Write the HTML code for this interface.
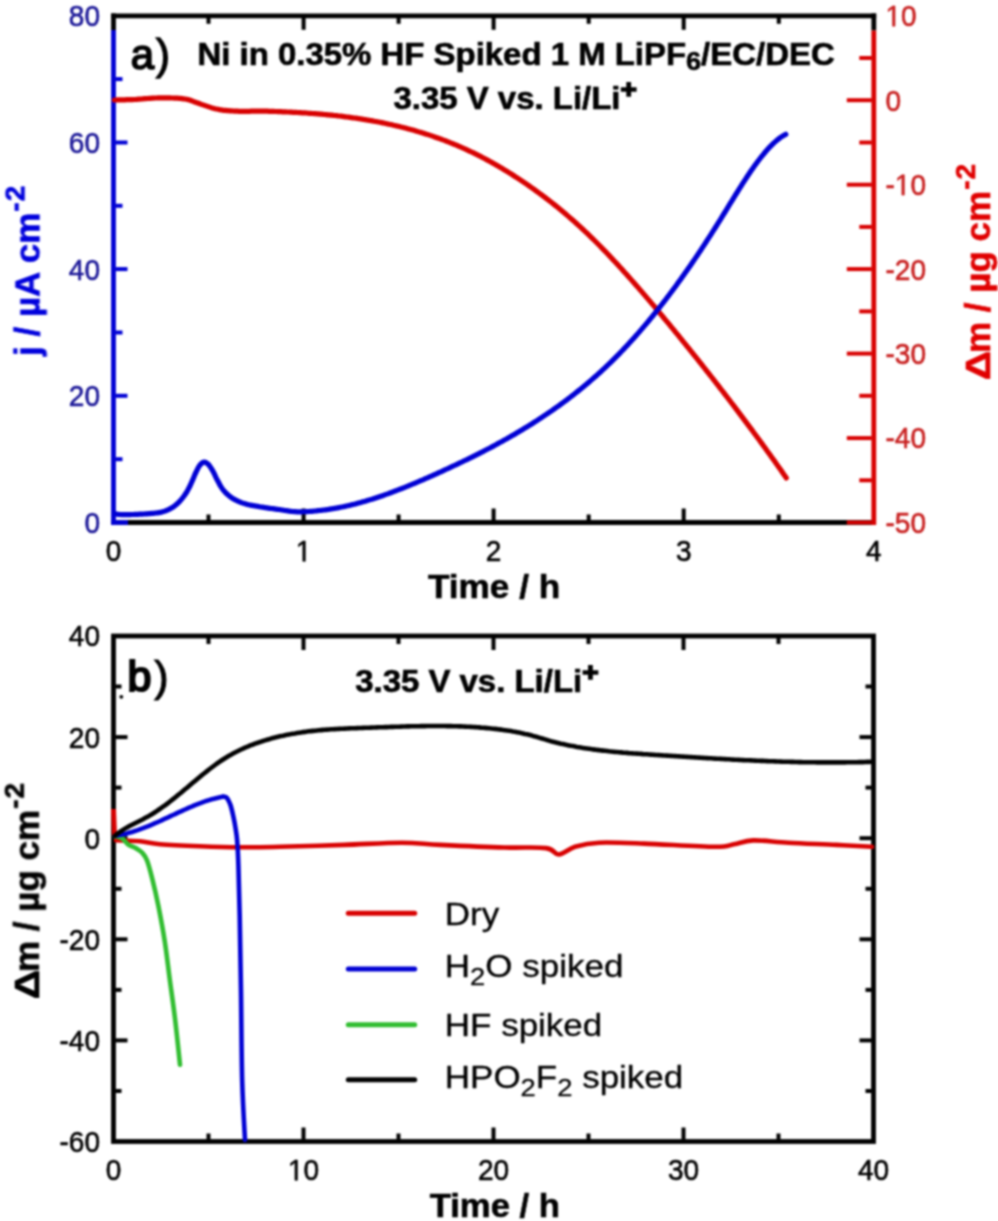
<!DOCTYPE html>
<html><head><meta charset="utf-8"><style>
html,body{margin:0;padding:0;background:#fff;}
svg{display:block;}
text{font-family:"Liberation Sans", sans-serif;}
</style></head><body>
<svg width="998" height="1221" viewBox="0 0 998 1221" font-family='"Liberation Sans", sans-serif'>
<defs><filter id="soft" color-interpolation-filters="sRGB" x="0" y="0" width="100%" height="100%" filterUnits="userSpaceOnUse"><feConvolveMatrix order="5" kernelMatrix="1 4 6 4 1 4 16 24 16 4 6 24 36 24 6 4 16 24 16 4 1 4 6 4 1" divisor="256" edgeMode="duplicate" preserveAlpha="true"/></filter></defs>
<g filter="url(#soft)">
<rect width="998" height="1221" fill="#fff"/>
<line x1="111.1" y1="15.8" x2="876.1999999999999" y2="15.8" stroke="#000" stroke-width="4.8"/>
<line x1="111.1" y1="522.5" x2="873.8" y2="522.5" stroke="#000" stroke-width="4.8"/>
<line x1="113.5" y1="13.4" x2="113.5" y2="30" stroke="#000" stroke-width="4.8"/>
<line x1="113.5" y1="30" x2="113.5" y2="524.9" stroke="#0000d4" stroke-width="4.8"/>
<line x1="873.8" y1="13.4" x2="873.8" y2="30.5" stroke="#000" stroke-width="4.8"/>
<line x1="873.8" y1="30.5" x2="873.8" y2="524.9" stroke="#d80000" stroke-width="4.8"/>
<line x1="208.5" y1="17.8" x2="208.5" y2="23.8" stroke="#000" stroke-width="4"/>
<line x1="208.5" y1="520.5" x2="208.5" y2="514.5" stroke="#000" stroke-width="4"/>
<line x1="303.6" y1="17.8" x2="303.6" y2="29.8" stroke="#000" stroke-width="4"/>
<line x1="303.6" y1="520.5" x2="303.6" y2="508.5" stroke="#000" stroke-width="4"/>
<line x1="398.6" y1="17.8" x2="398.6" y2="23.8" stroke="#000" stroke-width="4"/>
<line x1="398.6" y1="520.5" x2="398.6" y2="514.5" stroke="#000" stroke-width="4"/>
<line x1="493.6" y1="17.8" x2="493.6" y2="29.8" stroke="#000" stroke-width="4"/>
<line x1="493.6" y1="520.5" x2="493.6" y2="508.5" stroke="#000" stroke-width="4"/>
<line x1="588.7" y1="17.8" x2="588.7" y2="23.8" stroke="#000" stroke-width="4"/>
<line x1="588.7" y1="520.5" x2="588.7" y2="514.5" stroke="#000" stroke-width="4"/>
<line x1="683.7" y1="17.8" x2="683.7" y2="29.8" stroke="#000" stroke-width="4"/>
<line x1="683.7" y1="520.5" x2="683.7" y2="508.5" stroke="#000" stroke-width="4"/>
<line x1="778.8" y1="17.8" x2="778.8" y2="23.8" stroke="#000" stroke-width="4"/>
<line x1="778.8" y1="520.5" x2="778.8" y2="514.5" stroke="#000" stroke-width="4"/>
<line x1="115.5" y1="459.2" x2="122.5" y2="459.2" stroke="#0000d4" stroke-width="4"/>
<line x1="115.5" y1="395.8" x2="127.5" y2="395.8" stroke="#0000d4" stroke-width="4"/>
<line x1="115.5" y1="332.5" x2="122.5" y2="332.5" stroke="#0000d4" stroke-width="4"/>
<line x1="115.5" y1="269.1" x2="127.5" y2="269.1" stroke="#0000d4" stroke-width="4"/>
<line x1="115.5" y1="205.8" x2="122.5" y2="205.8" stroke="#0000d4" stroke-width="4"/>
<line x1="115.5" y1="142.5" x2="127.5" y2="142.5" stroke="#0000d4" stroke-width="4"/>
<line x1="115.5" y1="79.1" x2="122.5" y2="79.1" stroke="#0000d4" stroke-width="4"/>
<line x1="846.8" y1="522.5" x2="871.8" y2="522.5" stroke="#d80000" stroke-width="4"/>
<line x1="859.3" y1="480.3" x2="871.8" y2="480.3" stroke="#d80000" stroke-width="4"/>
<line x1="846.8" y1="438.1" x2="871.8" y2="438.1" stroke="#d80000" stroke-width="4"/>
<line x1="859.3" y1="395.8" x2="871.8" y2="395.8" stroke="#d80000" stroke-width="4"/>
<line x1="846.8" y1="353.6" x2="871.8" y2="353.6" stroke="#d80000" stroke-width="4"/>
<line x1="859.3" y1="311.4" x2="871.8" y2="311.4" stroke="#d80000" stroke-width="4"/>
<line x1="846.8" y1="269.1" x2="871.8" y2="269.1" stroke="#d80000" stroke-width="4"/>
<line x1="859.3" y1="226.9" x2="871.8" y2="226.9" stroke="#d80000" stroke-width="4"/>
<line x1="846.8" y1="184.7" x2="871.8" y2="184.7" stroke="#d80000" stroke-width="4"/>
<line x1="859.3" y1="142.5" x2="871.8" y2="142.5" stroke="#d80000" stroke-width="4"/>
<line x1="846.8" y1="100.2" x2="871.8" y2="100.2" stroke="#d80000" stroke-width="4"/>
<line x1="859.3" y1="58.0" x2="871.8" y2="58.0" stroke="#d80000" stroke-width="4"/>
<g transform="translate(105.71,561.30) scale(0.95,1)"><text x="0.00" y="0" font-size="29.5" fill="#000" stroke="#000" stroke-width="0.6">0</text></g>
<g transform="translate(295.78,561.30) scale(0.95,1)"><path transform="translate(0.00,0) scale(0.01440,-0.01440)" d="M515 0V1237L197 1010V1180L530 1409H696V0Z" fill="#000" stroke="#000" stroke-width="41.7"/></g>
<g transform="translate(485.86,561.30) scale(0.95,1)"><text x="0.00" y="0" font-size="29.5" fill="#000" stroke="#000" stroke-width="0.6">2</text></g>
<g transform="translate(675.93,561.30) scale(0.95,1)"><text x="0.00" y="0" font-size="29.5" fill="#000" stroke="#000" stroke-width="0.6">3</text></g>
<g transform="translate(866.01,561.30) scale(0.95,1)"><text x="0.00" y="0" font-size="29.5" fill="#000" stroke="#000" stroke-width="0.6">4</text></g>
<g transform="translate(84.41,532.90) scale(0.95,1)"><text x="0.00" y="0" font-size="29.5" fill="#1c1898" stroke="#1c1898" stroke-width="0.6">0</text></g>
<g transform="translate(68.83,406.22) scale(0.95,1)"><text x="0.00" y="0" font-size="29.5" fill="#1c1898" stroke="#1c1898" stroke-width="0.6">20</text></g>
<g transform="translate(68.83,279.55) scale(0.95,1)"><text x="0.00" y="0" font-size="29.5" fill="#1c1898" stroke="#1c1898" stroke-width="0.6">40</text></g>
<g transform="translate(68.83,152.88) scale(0.95,1)"><text x="0.00" y="0" font-size="29.5" fill="#1c1898" stroke="#1c1898" stroke-width="0.6">60</text></g>
<g transform="translate(68.83,26.20) scale(0.95,1)"><text x="0.00" y="0" font-size="29.5" fill="#1c1898" stroke="#1c1898" stroke-width="0.6">80</text></g>
<g transform="translate(885.50,532.90) scale(0.95,1)"><text x="0.00" y="0" font-size="29.5" fill="#c82020" stroke="#c82020" stroke-width="0.6">-50</text></g>
<g transform="translate(885.50,448.45) scale(0.95,1)"><text x="0.00" y="0" font-size="29.5" fill="#c82020" stroke="#c82020" stroke-width="0.6">-40</text></g>
<g transform="translate(885.50,364.00) scale(0.95,1)"><text x="0.00" y="0" font-size="29.5" fill="#c82020" stroke="#c82020" stroke-width="0.6">-30</text></g>
<g transform="translate(885.50,279.55) scale(0.95,1)"><text x="0.00" y="0" font-size="29.5" fill="#c82020" stroke="#c82020" stroke-width="0.6">-20</text></g>
<g transform="translate(885.50,195.10) scale(0.95,1)"><text x="0.00" y="0" font-size="29.5" fill="#c82020" stroke="#c82020" stroke-width="0.6">-</text><path transform="translate(9.82,0) scale(0.01440,-0.01440)" d="M515 0V1237L197 1010V1180L530 1409H696V0Z" fill="#c82020" stroke="#c82020" stroke-width="41.7"/><text x="26.23" y="0" font-size="29.5" fill="#c82020" stroke="#c82020" stroke-width="0.6">0</text></g>
<g transform="translate(885.50,110.65) scale(0.95,1)"><text x="0.00" y="0" font-size="29.5" fill="#c82020" stroke="#c82020" stroke-width="0.6">0</text></g>
<g transform="translate(885.50,26.20) scale(0.95,1)"><path transform="translate(0.00,0) scale(0.01440,-0.01440)" d="M515 0V1237L197 1010V1180L530 1409H696V0Z" fill="#c82020" stroke="#c82020" stroke-width="41.7"/><text x="16.41" y="0" font-size="29.5" fill="#c82020" stroke="#c82020" stroke-width="0.6">0</text></g>
<path d="M114.5,100.0 L116.0,100.0 L117.5,99.9 L119.0,99.9 L120.5,99.9 L122.0,99.8 L123.5,99.8 L125.0,99.8 L126.5,99.7 L128.0,99.7 L129.5,99.7 L131.0,99.6 L132.5,99.6 L134.0,99.5 L135.5,99.5 L137.0,99.3 L138.5,99.2 L140.0,99.1 L141.5,99.0 L143.0,98.8 L144.5,98.7 L146.0,98.6 L147.5,98.5 L149.0,98.4 L150.5,98.3 L152.0,98.2 L153.5,98.1 L155.0,98.0 L156.5,98.0 L158.0,97.9 L159.5,97.8 L161.0,97.8 L162.5,97.8 L164.0,97.8 L165.5,97.8 L167.0,97.8 L168.5,97.9 L170.0,97.9 L171.5,98.0 L173.0,98.0 L174.5,98.1 L176.0,98.1 L177.5,98.2 L179.0,98.3 L180.5,98.4 L182.0,98.6 L183.5,98.8 L185.0,99.0 L186.5,99.3 L188.0,99.6 L189.5,100.0 L191.0,100.5 L192.5,101.1 L194.0,101.7 L195.5,102.2 L197.0,102.8 L198.5,103.3 L200.0,103.8 L201.5,104.4 L203.0,104.9 L204.5,105.4 L206.0,105.9 L207.5,106.4 L209.0,106.9 L210.5,107.4 L212.0,107.9 L213.5,108.3 L215.0,108.7 L216.5,109.0 L218.0,109.3 L219.5,109.6 L221.0,109.8 L222.5,110.1 L224.0,110.3 L225.5,110.4 L227.0,110.6 L228.5,110.7 L230.0,110.8 L231.5,110.9 L233.0,111.0 L234.5,111.1 L236.0,111.2 L237.5,111.2 L239.0,111.3 L240.5,111.3 L242.0,111.4 L243.5,111.4 L245.0,111.3 L246.5,111.3 L248.0,111.3 L249.5,111.3 L251.0,111.2 L252.5,111.2 L254.0,111.2 L255.5,111.2 L257.0,111.2 L258.5,111.2 L260.0,111.2 L261.5,111.2 L263.0,111.2 L264.5,111.2 L266.0,111.2 L267.5,111.2 L269.0,111.3 L270.5,111.3 L272.0,111.4 L273.5,111.4 L275.0,111.5 L276.5,111.5 L278.0,111.6 L279.5,111.7 L281.0,111.7 L282.5,111.8 L284.0,111.8 L285.5,111.9 L287.0,112.0 L288.5,112.0 L290.0,112.1 L291.5,112.2 L293.0,112.3 L294.5,112.3 L296.0,112.4 L297.5,112.5 L299.0,112.6 L300.5,112.7 L302.0,112.8 L303.5,112.9 L305.0,112.9 L306.5,113.0 L308.0,113.2 L309.5,113.3 L311.0,113.4 L312.5,113.5 L314.0,113.6 L315.5,113.7 L317.0,113.8 L318.5,113.9 L320.0,114.1 L321.5,114.2 L323.0,114.3 L324.5,114.5 L326.0,114.6 L327.5,114.8 L329.0,114.9 L330.5,115.1 L332.0,115.2 L333.5,115.4 L335.0,115.5 L336.5,115.7 L338.0,115.9 L339.5,116.0 L341.0,116.2 L342.5,116.4 L344.0,116.6 L345.5,116.8 L347.0,117.0 L348.5,117.2 L350.0,117.4 L351.5,117.6 L353.0,117.8 L354.5,118.0 L356.0,118.2 L357.5,118.4 L359.0,118.7 L360.5,118.9 L362.0,119.1 L363.5,119.4 L365.0,119.6 L366.5,119.9 L368.0,120.1 L369.5,120.4 L371.0,120.6 L372.5,120.9 L374.0,121.2 L375.5,121.5 L377.0,121.7 L378.5,122.0 L380.0,122.3 L381.5,122.6 L383.0,122.9 L384.5,123.2 L386.0,123.5 L387.5,123.9 L389.0,124.2 L390.5,124.5 L392.0,124.8 L393.5,125.2 L395.0,125.5 L396.5,125.9 L398.0,126.2 L399.5,126.6 L401.0,127.0 L402.5,127.3 L404.0,127.7 L405.5,128.1 L407.0,128.5 L408.5,128.9 L410.0,129.3 L411.5,129.7 L413.0,130.1 L414.5,130.5 L416.0,131.0 L417.5,131.4 L419.0,131.9 L420.5,132.3 L422.0,132.8 L423.5,133.2 L425.0,133.7 L426.5,134.2 L428.0,134.6 L429.5,135.1 L431.0,135.6 L432.5,136.1 L434.0,136.7 L435.5,137.2 L437.0,137.7 L438.5,138.2 L440.0,138.8 L441.5,139.3 L443.0,139.9 L444.5,140.4 L446.0,141.0 L447.5,141.6 L449.0,142.2 L450.5,142.8 L452.0,143.4 L453.5,144.0 L455.0,144.6 L456.5,145.2 L458.0,145.9 L459.5,146.5 L461.0,147.2 L462.5,147.8 L464.0,148.5 L465.5,149.2 L467.0,149.9 L468.5,150.6 L470.0,151.3 L471.5,152.0 L473.0,152.7 L474.5,153.4 L476.0,154.2 L477.5,154.9 L479.0,155.7 L480.5,156.4 L482.0,157.2 L483.5,158.0 L485.0,158.8 L486.5,159.6 L488.0,160.4 L489.5,161.2 L491.0,162.0 L492.5,162.9 L494.0,163.7 L495.5,164.6 L497.0,165.4 L498.5,166.3 L500.0,167.2 L501.5,168.1 L503.0,169.0 L504.5,169.9 L506.0,170.8 L507.5,171.7 L509.0,172.7 L510.5,173.6 L512.0,174.5 L513.5,175.5 L515.0,176.5 L516.5,177.4 L518.0,178.4 L519.5,179.4 L521.0,180.4 L522.5,181.4 L524.0,182.4 L525.5,183.4 L527.0,184.4 L528.5,185.5 L530.0,186.5 L531.5,187.6 L533.0,188.6 L534.5,189.7 L536.0,190.8 L537.5,191.9 L539.0,193.0 L540.5,194.1 L542.0,195.2 L543.5,196.3 L545.0,197.4 L546.5,198.6 L548.0,199.7 L549.5,200.9 L551.0,202.0 L552.5,203.2 L554.0,204.4 L555.5,205.6 L557.0,206.8 L558.5,208.0 L560.0,209.3 L561.5,210.5 L563.0,211.8 L564.5,213.0 L566.0,214.3 L567.5,215.6 L569.0,216.9 L570.5,218.2 L572.0,219.5 L573.5,220.8 L575.0,222.1 L576.5,223.5 L578.0,224.9 L579.5,226.2 L581.0,227.6 L582.5,229.0 L584.0,230.4 L585.5,231.8 L587.0,233.2 L588.5,234.7 L590.0,236.1 L591.5,237.6 L593.0,239.0 L594.5,240.5 L596.0,242.0 L597.5,243.5 L599.0,245.0 L600.5,246.5 L602.0,248.1 L603.5,249.6 L605.0,251.2 L606.5,252.7 L608.0,254.3 L609.5,255.9 L611.0,257.5 L612.5,259.1 L614.0,260.7 L615.5,262.3 L617.0,263.9 L618.5,265.5 L620.0,267.2 L621.5,268.8 L623.0,270.5 L624.5,272.2 L626.0,273.8 L627.5,275.5 L629.0,277.2 L630.5,278.9 L632.0,280.6 L633.5,282.3 L635.0,284.0 L636.5,285.7 L638.0,287.4 L639.5,289.2 L641.0,290.9 L642.5,292.6 L644.0,294.4 L645.5,296.1 L647.0,297.9 L648.5,299.6 L650.0,301.4 L651.5,303.2 L653.0,304.9 L654.5,306.7 L656.0,308.5 L657.5,310.3 L659.0,312.1 L660.5,313.9 L662.0,315.7 L663.5,317.5 L665.0,319.3 L666.5,321.1 L668.0,322.9 L669.5,324.7 L671.0,326.6 L672.5,328.4 L674.0,330.2 L675.5,332.1 L677.0,333.9 L678.5,335.7 L680.0,337.6 L681.5,339.4 L683.0,341.3 L684.5,343.1 L686.0,345.0 L687.5,346.8 L689.0,348.7 L690.5,350.6 L692.0,352.4 L693.5,354.3 L695.0,356.2 L696.5,358.0 L698.0,359.9 L699.5,361.8 L701.0,363.7 L702.5,365.6 L704.0,367.5 L705.5,369.4 L707.0,371.3 L708.5,373.2 L710.0,375.1 L711.5,377.0 L713.0,378.9 L714.5,380.8 L716.0,382.8 L717.5,384.7 L719.0,386.6 L720.5,388.6 L722.0,390.5 L723.5,392.4 L725.0,394.4 L726.5,396.3 L728.0,398.3 L729.5,400.2 L731.0,402.2 L732.5,404.2 L734.0,406.1 L735.5,408.1 L737.0,410.1 L738.5,412.1 L740.0,414.1 L741.5,416.1 L743.0,418.1 L744.5,420.1 L746.0,422.1 L747.5,424.1 L749.0,426.1 L750.5,428.1 L752.0,430.1 L753.5,432.2 L755.0,434.2 L756.5,436.2 L758.0,438.3 L759.5,440.3 L761.0,442.4 L762.5,444.4 L764.0,446.5 L765.5,448.6 L767.0,450.7 L768.5,452.7 L770.0,454.8 L771.5,456.9 L773.0,459.0 L774.5,461.1 L776.0,463.2 L777.5,465.4 L779.0,467.5 L780.5,469.6 L782.0,471.8 L783.5,473.9 L785.0,476.1 L786.3,477.9" fill="none" stroke="#d80000" stroke-width="5.2" stroke-linejoin="round" stroke-linecap="round"/>
<line x1="113.7" y1="522.5" x2="128" y2="522.5" stroke="#0000d4" stroke-width="4.8"/>
<path d="M115.4,513.8 L116.9,514.1 L118.4,514.3 L119.9,514.5 L121.4,514.6 L122.9,514.7 L124.4,514.7 L125.9,514.7 L127.4,514.6 L128.9,514.6 L130.4,514.6 L131.9,514.5 L133.4,514.5 L134.9,514.4 L136.4,514.4 L137.9,514.3 L139.4,514.2 L140.9,514.1 L142.4,514.1 L143.9,514.0 L145.4,513.9 L146.9,513.8 L148.4,513.7 L149.9,513.6 L151.4,513.4 L152.9,513.3 L154.4,513.2 L155.9,513.0 L157.4,512.8 L158.9,512.6 L160.4,512.4 L161.9,512.0 L163.4,511.6 L164.9,511.1 L166.4,510.5 L167.9,509.9 L169.4,509.2 L170.9,508.3 L172.4,507.4 L173.9,506.5 L175.4,505.3 L176.9,504.0 L178.4,502.6 L179.9,501.1 L181.4,499.4 L182.9,497.5 L184.4,495.5 L185.9,493.3 L187.4,490.8 L188.9,488.1 L190.4,485.0 L191.9,481.7 L193.4,478.2 L194.9,474.5 L196.4,471.4 L197.9,468.3 L199.4,465.7 L200.9,464.0 L202.4,462.7 L203.9,462.0 L205.4,462.3 L206.9,463.2 L208.4,464.4 L209.9,466.3 L211.4,468.6 L212.9,471.1 L214.4,474.0 L215.9,477.3 L217.4,480.3 L218.9,483.1 L220.4,485.9 L221.9,488.2 L223.4,490.2 L224.9,491.9 L226.4,493.5 L227.9,494.8 L229.4,496.1 L230.9,497.2 L232.4,498.3 L233.9,499.1 L235.4,499.9 L236.9,500.6 L238.4,501.3 L239.9,502.0 L241.4,502.6 L242.9,503.1 L244.4,503.6 L245.9,504.0 L247.4,504.4 L248.9,504.8 L250.4,505.1 L251.9,505.4 L253.4,505.7 L254.9,505.9 L256.4,506.2 L257.9,506.4 L259.4,506.7 L260.9,507.0 L262.4,507.2 L263.9,507.4 L265.4,507.7 L266.9,507.9 L268.4,508.1 L269.9,508.3 L271.4,508.5 L272.9,508.7 L274.4,508.9 L275.9,509.1 L277.4,509.3 L278.9,509.5 L280.4,509.7 L281.9,510.0 L283.4,510.2 L284.9,510.5 L286.4,510.7 L287.9,510.9 L289.4,511.2 L290.9,511.3 L292.4,511.5 L293.9,511.6 L295.4,511.7 L296.9,511.8 L298.4,511.8 L299.9,511.8 L301.4,511.8 L302.9,511.8 L304.4,511.7 L305.9,511.7 L307.4,511.6 L308.9,511.5 L310.4,511.4 L311.9,511.3 L313.4,511.2 L314.9,511.0 L316.4,510.9 L317.9,510.7 L319.4,510.5 L320.9,510.3 L322.4,510.2 L323.9,510.0 L325.4,509.8 L326.9,509.6 L328.4,509.4 L329.9,509.1 L331.4,508.9 L332.9,508.7 L334.4,508.4 L335.9,508.2 L337.4,507.9 L338.9,507.6 L340.4,507.3 L341.9,507.0 L343.4,506.7 L344.9,506.4 L346.4,506.0 L347.9,505.7 L349.4,505.4 L350.9,505.0 L352.4,504.6 L353.9,504.3 L355.4,503.9 L356.9,503.5 L358.4,503.1 L359.9,502.7 L361.4,502.3 L362.9,501.8 L364.4,501.4 L365.9,501.0 L367.4,500.5 L368.9,500.1 L370.4,499.6 L371.9,499.2 L373.4,498.7 L374.9,498.2 L376.4,497.7 L377.9,497.2 L379.4,496.7 L380.9,496.2 L382.4,495.7 L383.9,495.2 L385.4,494.6 L386.9,494.1 L388.4,493.6 L389.9,493.0 L391.4,492.5 L392.9,491.9 L394.4,491.3 L395.9,490.8 L397.4,490.2 L398.9,489.6 L400.4,489.0 L401.9,488.5 L403.4,487.9 L404.9,487.3 L406.4,486.7 L407.9,486.1 L409.4,485.4 L410.9,484.8 L412.4,484.2 L413.9,483.6 L415.4,483.0 L416.9,482.3 L418.4,481.7 L419.9,481.0 L421.4,480.4 L422.9,479.8 L424.4,479.1 L425.9,478.4 L427.4,477.8 L428.9,477.1 L430.4,476.5 L431.9,475.8 L433.4,475.1 L434.9,474.5 L436.4,473.8 L437.9,473.1 L439.4,472.4 L440.9,471.8 L442.4,471.1 L443.9,470.4 L445.4,469.7 L446.9,469.0 L448.4,468.3 L449.9,467.6 L451.4,466.9 L452.9,466.2 L454.4,465.5 L455.9,464.8 L457.4,464.1 L458.9,463.4 L460.4,462.7 L461.9,462.0 L463.4,461.2 L464.9,460.5 L466.4,459.8 L467.9,459.1 L469.4,458.3 L470.9,457.6 L472.4,456.9 L473.9,456.1 L475.4,455.4 L476.9,454.6 L478.4,453.9 L479.9,453.1 L481.4,452.3 L482.9,451.6 L484.4,450.8 L485.9,450.0 L487.4,449.2 L488.9,448.5 L490.4,447.7 L491.9,446.9 L493.4,446.1 L494.9,445.3 L496.4,444.5 L497.9,443.6 L499.4,442.8 L500.9,442.0 L502.4,441.2 L503.9,440.3 L505.4,439.5 L506.9,438.7 L508.4,437.8 L509.9,437.0 L511.4,436.1 L512.9,435.2 L514.4,434.4 L515.9,433.5 L517.4,432.6 L518.9,431.7 L520.4,430.8 L521.9,429.9 L523.4,429.0 L524.9,428.1 L526.4,427.2 L527.9,426.3 L529.4,425.3 L530.9,424.4 L532.4,423.5 L533.9,422.5 L535.4,421.6 L536.9,420.6 L538.4,419.6 L539.9,418.6 L541.4,417.7 L542.9,416.7 L544.4,415.7 L545.9,414.7 L547.4,413.7 L548.9,412.6 L550.4,411.6 L551.9,410.6 L553.4,409.5 L554.9,408.5 L556.4,407.4 L557.9,406.4 L559.4,405.3 L560.9,404.2 L562.4,403.1 L563.9,402.0 L565.4,400.9 L566.9,399.8 L568.4,398.6 L569.9,397.5 L571.4,396.3 L572.9,395.2 L574.4,394.0 L575.9,392.8 L577.4,391.6 L578.9,390.4 L580.4,389.2 L581.9,388.0 L583.4,386.8 L584.9,385.5 L586.4,384.3 L587.9,383.0 L589.4,381.7 L590.9,380.4 L592.4,379.1 L593.9,377.8 L595.4,376.5 L596.9,375.2 L598.4,373.8 L599.9,372.5 L601.4,371.1 L602.9,369.7 L604.4,368.3 L605.9,366.9 L607.4,365.5 L608.9,364.0 L610.4,362.6 L611.9,361.1 L613.4,359.6 L614.9,358.1 L616.4,356.6 L617.9,355.1 L619.4,353.6 L620.9,352.0 L622.4,350.5 L623.9,348.9 L625.4,347.3 L626.9,345.7 L628.4,344.1 L629.9,342.4 L631.4,340.8 L632.9,339.1 L634.4,337.5 L635.9,335.8 L637.4,334.1 L638.9,332.4 L640.4,330.6 L641.9,328.9 L643.4,327.1 L644.9,325.4 L646.4,323.6 L647.9,321.8 L649.4,320.0 L650.9,318.2 L652.4,316.3 L653.9,314.5 L655.4,312.6 L656.9,310.7 L658.4,308.9 L659.9,306.9 L661.4,305.0 L662.9,303.1 L664.4,301.2 L665.9,299.2 L667.4,297.2 L668.9,295.3 L670.4,293.3 L671.9,291.3 L673.4,289.2 L674.9,287.2 L676.4,285.2 L677.9,283.1 L679.4,281.0 L680.9,278.9 L682.4,276.8 L683.9,274.7 L685.4,272.6 L686.9,270.5 L688.4,268.3 L689.9,266.2 L691.4,264.0 L692.9,261.8 L694.4,259.6 L695.9,257.4 L697.4,255.2 L698.9,252.9 L700.4,250.7 L701.9,248.4 L703.4,246.1 L704.9,243.8 L706.4,241.5 L707.9,239.2 L709.4,236.9 L710.9,234.6 L712.4,232.2 L713.9,229.9 L715.4,227.5 L716.9,225.1 L718.4,222.7 L719.9,220.3 L721.4,217.9 L722.9,215.4 L724.4,213.0 L725.9,210.6 L727.4,208.1 L728.9,205.7 L730.4,203.2 L731.9,200.8 L733.4,198.3 L734.9,195.9 L736.4,193.5 L737.9,191.1 L739.4,188.7 L740.9,186.3 L742.4,183.9 L743.9,181.6 L745.4,179.3 L746.9,177.0 L748.4,174.8 L749.9,172.5 L751.4,170.3 L752.9,168.2 L754.4,166.1 L755.9,164.0 L757.4,161.9 L758.9,160.0 L760.4,158.0 L761.9,156.1 L763.4,154.3 L764.9,152.5 L766.4,150.7 L767.9,149.0 L769.4,147.4 L770.9,145.9 L772.4,144.4 L773.9,142.9 L775.4,141.6 L776.9,140.3 L778.4,139.1 L779.9,137.9 L781.4,136.9 L782.9,135.9 L784.4,135.0 L785.8,134.3" fill="none" stroke="#0000d4" stroke-width="5.2" stroke-linejoin="round" stroke-linecap="round"/>
<g transform="translate(39.5,356) rotate(-90)" fill="#0000dc" stroke="#0000dc" stroke-width="0.6" font-weight="bold" font-size="35"><text x="0" y="0">j / µA cm<tspan font-size="28" dy="-15.5" dx="1">-</tspan><tspan font-size="28" dx="1">2</tspan></text></g>
<g transform="translate(990,378.5) rotate(-90)" fill="#e00000" stroke="#e00000" stroke-width="0.6" font-weight="bold" font-size="35"><text transform="scale(1.17,1)" x="-1.5" y="0">Δ</text><text x="25.5" y="0">m / µg cm<tspan font-size="28" dy="-15.5" dx="1">-</tspan><tspan font-size="28" dx="1">2</tspan></text></g>
<text x="130.8" y="69" font-size="42" fill="#000" stroke="#000" stroke-width="1.7">a</text>
<text x="156" y="69" font-size="42" fill="#000" stroke="#000" stroke-width="1.3">)</text>
<g transform="translate(197.5,65) scale(1.08,1)"><text x="0" y="0" font-size="30.5" font-weight="bold" fill="#000" stroke="#000" stroke-width="0.6">Ni in 0.35% HF Spiked 1 M LiPF<tspan font-size="25" dy="5">6</tspan><tspan dy="-5">/EC/DEC</tspan></text></g>
<g transform="translate(393.5,108.7) scale(1.08,1)"><text x="0" y="0" font-size="30.5" font-weight="bold" fill="#000" stroke="#000" stroke-width="0.6">3.35 V vs. Li/Li<tspan font-size="26" dy="-11" stroke-width="1.6">+</tspan></text></g>
<g transform="translate(428,598) scale(1.04,1)"><text x="0" y="0" font-size="33.8" font-weight="bold" fill="#000" stroke="#000" stroke-width="0.6">Time / h</text></g>
<rect x="113.5" y="636" width="760.0" height="505.5" fill="none" stroke="#000" stroke-width="4.8" stroke-linejoin="miter"/>
<line x1="208.5" y1="638" x2="208.5" y2="644" stroke="#000" stroke-width="4"/>
<line x1="208.5" y1="1139.5" x2="208.5" y2="1133.5" stroke="#000" stroke-width="4"/>
<line x1="303.5" y1="638" x2="303.5" y2="650" stroke="#000" stroke-width="4"/>
<line x1="303.5" y1="1139.5" x2="303.5" y2="1127.5" stroke="#000" stroke-width="4"/>
<line x1="398.5" y1="638" x2="398.5" y2="644" stroke="#000" stroke-width="4"/>
<line x1="398.5" y1="1139.5" x2="398.5" y2="1133.5" stroke="#000" stroke-width="4"/>
<line x1="493.5" y1="638" x2="493.5" y2="650" stroke="#000" stroke-width="4"/>
<line x1="493.5" y1="1139.5" x2="493.5" y2="1127.5" stroke="#000" stroke-width="4"/>
<line x1="588.5" y1="638" x2="588.5" y2="644" stroke="#000" stroke-width="4"/>
<line x1="588.5" y1="1139.5" x2="588.5" y2="1133.5" stroke="#000" stroke-width="4"/>
<line x1="683.5" y1="638" x2="683.5" y2="650" stroke="#000" stroke-width="4"/>
<line x1="683.5" y1="1139.5" x2="683.5" y2="1127.5" stroke="#000" stroke-width="4"/>
<line x1="778.5" y1="638" x2="778.5" y2="644" stroke="#000" stroke-width="4"/>
<line x1="778.5" y1="1139.5" x2="778.5" y2="1133.5" stroke="#000" stroke-width="4"/>
<line x1="115.5" y1="1091.0" x2="121.5" y2="1091.0" stroke="#000" stroke-width="4"/>
<line x1="865.5" y1="1091.0" x2="871.5" y2="1091.0" stroke="#000" stroke-width="4"/>
<line x1="115.5" y1="1040.4" x2="127.5" y2="1040.4" stroke="#000" stroke-width="4"/>
<line x1="859.5" y1="1040.4" x2="871.5" y2="1040.4" stroke="#000" stroke-width="4"/>
<line x1="115.5" y1="989.9" x2="121.5" y2="989.9" stroke="#000" stroke-width="4"/>
<line x1="865.5" y1="989.9" x2="871.5" y2="989.9" stroke="#000" stroke-width="4"/>
<line x1="115.5" y1="939.3" x2="127.5" y2="939.3" stroke="#000" stroke-width="4"/>
<line x1="859.5" y1="939.3" x2="871.5" y2="939.3" stroke="#000" stroke-width="4"/>
<line x1="115.5" y1="888.8" x2="121.5" y2="888.8" stroke="#000" stroke-width="4"/>
<line x1="865.5" y1="888.8" x2="871.5" y2="888.8" stroke="#000" stroke-width="4"/>
<line x1="115.5" y1="838.2" x2="127.5" y2="838.2" stroke="#000" stroke-width="4"/>
<line x1="859.5" y1="838.2" x2="871.5" y2="838.2" stroke="#000" stroke-width="4"/>
<line x1="115.5" y1="787.6" x2="121.5" y2="787.6" stroke="#000" stroke-width="4"/>
<line x1="865.5" y1="787.6" x2="871.5" y2="787.6" stroke="#000" stroke-width="4"/>
<line x1="115.5" y1="737.1" x2="127.5" y2="737.1" stroke="#000" stroke-width="4"/>
<line x1="859.5" y1="737.1" x2="871.5" y2="737.1" stroke="#000" stroke-width="4"/>
<line x1="115.5" y1="686.5" x2="121.5" y2="686.5" stroke="#000" stroke-width="4"/>
<line x1="865.5" y1="686.5" x2="871.5" y2="686.5" stroke="#000" stroke-width="4"/>
<g transform="translate(105.71,1180.30) scale(0.95,1)"><text x="0.00" y="0" font-size="29.5" fill="#000" stroke="#000" stroke-width="0.6">0</text></g>
<g transform="translate(287.91,1180.30) scale(0.95,1)"><path transform="translate(0.00,0) scale(0.01440,-0.01440)" d="M515 0V1237L197 1010V1180L530 1409H696V0Z" fill="#000" stroke="#000" stroke-width="41.7"/><text x="16.41" y="0" font-size="29.5" fill="#000" stroke="#000" stroke-width="0.6">0</text></g>
<g transform="translate(477.91,1180.30) scale(0.95,1)"><text x="0.00" y="0" font-size="29.5" fill="#000" stroke="#000" stroke-width="0.6">20</text></g>
<g transform="translate(667.91,1180.30) scale(0.95,1)"><text x="0.00" y="0" font-size="29.5" fill="#000" stroke="#000" stroke-width="0.6">30</text></g>
<g transform="translate(857.91,1180.30) scale(0.95,1)"><text x="0.00" y="0" font-size="29.5" fill="#000" stroke="#000" stroke-width="0.6">40</text></g>
<g transform="translate(59.50,1151.90) scale(0.95,1)"><text x="0.00" y="0" font-size="29.5" fill="#000" stroke="#000" stroke-width="0.6">-60</text></g>
<g transform="translate(59.50,1050.80) scale(0.95,1)"><text x="0.00" y="0" font-size="29.5" fill="#000" stroke="#000" stroke-width="0.6">-40</text></g>
<g transform="translate(59.50,949.70) scale(0.95,1)"><text x="0.00" y="0" font-size="29.5" fill="#000" stroke="#000" stroke-width="0.6">-20</text></g>
<g transform="translate(84.41,848.60) scale(0.95,1)"><text x="0.00" y="0" font-size="29.5" fill="#000" stroke="#000" stroke-width="0.6">0</text></g>
<g transform="translate(68.83,747.50) scale(0.95,1)"><text x="0.00" y="0" font-size="29.5" fill="#000" stroke="#000" stroke-width="0.6">20</text></g>
<g transform="translate(68.83,646.40) scale(0.95,1)"><text x="0.00" y="0" font-size="29.5" fill="#000" stroke="#000" stroke-width="0.6">40</text></g>
<path d="M113.5,809 L114.5,836" stroke="#d80000" stroke-width="5" fill="none"/>
<path d="M116.0,840.3 C120.0,840.5 132.7,840.6 140.0,841.3 C147.3,842.0 150.0,843.5 160.0,844.3 C170.0,845.1 186.6,845.8 200.0,846.3 C213.4,846.8 227.0,847.2 240.3,847.3 C253.6,847.4 262.7,847.2 280.0,846.8 C297.3,846.4 323.8,845.6 344.1,844.9 C364.4,844.2 385.8,842.7 401.8,842.7 C417.8,842.7 423.2,844.1 440.3,844.9 C457.4,845.7 486.8,847.0 504.4,847.5 C522.0,848.0 537.0,846.9 546.1,848.1 C555.2,849.3 554.1,854.7 558.9,854.5 C563.7,854.3 568.3,848.8 575.0,846.8 C581.7,844.8 587.7,843.2 599.2,842.7 C610.7,842.2 624.9,842.9 644.1,843.6 C663.4,844.3 699.7,846.7 714.7,846.8 C729.7,846.9 727.5,845.4 733.9,844.3 C740.3,843.2 744.0,840.7 753.1,840.4 C762.2,840.1 774.5,842.0 788.4,842.7 C802.3,843.5 822.6,844.2 836.5,844.9 C850.4,845.6 866.1,846.5 872.0,846.8" fill="none" stroke="#d80000" stroke-width="4.6" stroke-linejoin="round" stroke-linecap="round"/>
<path d="M115.0,836.3 C116.2,836.6 119.8,837.0 122.0,838.3 C124.2,839.6 125.7,842.6 128.0,844.3 C130.3,846.0 133.7,846.9 136.0,848.3 C138.3,849.7 140.2,850.5 142.0,852.5 C143.8,854.5 145.3,856.0 147.0,860.3 C148.7,864.6 150.2,870.5 152.1,878.1 C154.0,885.7 156.3,895.4 158.4,906.0 C160.5,916.6 162.9,929.3 164.8,941.6 C166.7,953.9 168.1,967.0 169.8,979.7 C171.5,992.4 173.2,1003.6 174.9,1017.8 C176.6,1032.0 179.2,1057.0 180.0,1064.8" fill="none" stroke="#30bd30" stroke-width="4.6" stroke-linejoin="round" stroke-linecap="round"/>
<path d="M115.0,835.7 L117.0,835.5 L119.0,835.1 L121.0,834.8 L123.0,834.3 L125.0,833.9 L127.0,833.4 L129.0,832.8 L131.0,832.3 L133.0,831.7 L135.0,831.0 L137.0,830.4 L139.0,829.7 L141.0,828.9 L143.0,828.2 L145.0,827.4 L147.0,826.6 L149.0,825.8 L151.0,825.0 L153.0,824.1 L155.0,823.2 L157.0,822.4 L159.0,821.5 L161.0,820.6 L163.0,819.6 L165.0,818.7 L167.0,817.8 L169.0,816.9 L171.0,815.9 L173.0,815.0 L175.0,814.1 L177.0,813.1 L179.0,812.2 L181.0,811.3 L183.0,810.4 L185.0,809.5 L187.0,808.6 L189.0,807.7 L191.0,806.9 L193.0,806.0 L195.0,805.2 L197.0,804.4 L199.0,803.6 L201.0,802.9 L203.0,802.1 L205.0,801.4 L207.0,800.7 L209.0,800.1 L211.0,799.5 L213.0,798.9 L215.0,798.4 L217.0,797.9 L219.0,797.4 L221.0,797.0 L223.0,796.6 L223.2,796.5 L223.2,796.4 C223.7,796.5 225.2,796.6 226.0,797.2 C226.8,797.8 227.5,798.7 228.3,800.2 C229.1,801.7 230.0,803.3 230.8,806.0 C231.6,808.7 232.5,812.5 233.3,816.2 C234.1,819.9 234.9,824.0 235.5,828.0 C236.1,832.0 236.6,833.8 237.1,840.0 C237.6,846.2 238.0,852.7 238.4,865.4 C238.8,878.1 239.3,895.0 239.7,916.2 C240.1,937.4 240.6,964.9 241.0,992.4 C241.4,1019.9 241.5,1056.7 242.2,1081.3 C242.9,1105.9 244.5,1130.2 245.0,1140.0" fill="none" stroke="#0000d4" stroke-width="4.6" stroke-linejoin="round" stroke-linecap="round"/>
<path d="M115.0,835.8 L117.0,834.1 L119.0,832.6 L121.0,831.2 L123.0,829.9 L125.0,828.6 L127.0,827.4 L129.0,826.3 L131.0,825.2 L133.0,824.2 L135.0,823.2 L137.0,822.2 L139.0,821.2 L141.0,820.2 L143.0,819.2 L145.0,818.1 L147.0,817.0 L149.0,815.9 L151.0,814.7 L153.0,813.5 L155.0,812.2 L157.0,810.9 L159.0,809.5 L161.0,808.1 L163.0,806.7 L165.0,805.3 L167.0,803.8 L169.0,802.3 L171.0,800.7 L173.0,799.1 L175.0,797.6 L177.0,795.9 L179.0,794.3 L181.0,792.7 L183.0,791.0 L185.0,789.3 L187.0,787.7 L189.0,786.0 L191.0,784.3 L193.0,782.6 L195.0,780.9 L197.0,779.2 L199.0,777.6 L201.0,775.9 L203.0,774.3 L205.0,772.7 L207.0,771.1 L209.0,769.5 L211.0,768.0 L213.0,766.5 L215.0,765.0 L217.0,763.5 L219.0,762.1 L221.0,760.8 L223.0,759.5 L225.0,758.2 L227.0,757.0 L229.0,755.8 L231.0,754.7 L233.0,753.6 L235.0,752.5 L237.0,751.5 L239.0,750.5 L241.0,749.5 L243.0,748.6 L245.0,747.7 L247.0,746.9 L249.0,746.0 L251.0,745.2 L253.0,744.5 L255.0,743.7 L257.0,743.0 L259.0,742.3 L261.0,741.7 L263.0,741.0 L265.0,740.4 L267.0,739.8 L269.0,739.2 L271.0,738.6 L273.0,738.1 L275.0,737.6 L277.0,737.1 L279.0,736.6 L281.0,736.1 L283.0,735.7 L285.0,735.2 L287.0,734.8 L289.0,734.4 L291.0,734.1 L293.0,733.7 L295.0,733.4 L297.0,733.0 L299.0,732.7 L301.0,732.4 L303.0,732.1 L305.0,731.9 L307.0,731.6 L309.0,731.3 L311.0,731.1 L313.0,730.9 L315.0,730.7 L317.0,730.5 L319.0,730.3 L321.0,730.1 L323.0,729.9 L325.0,729.8 L327.0,729.6 L329.0,729.5 L331.0,729.3 L333.0,729.2 L335.0,729.1 L337.0,729.0 L339.0,728.9 L341.0,728.8 L343.0,728.7 L345.0,728.6 L347.0,728.5 L349.0,728.4 L351.0,728.3 L353.0,728.2 L355.0,728.2 L357.0,728.1 L359.0,728.0 L361.0,728.0 L363.0,727.9 L365.0,727.8 L367.0,727.8 L369.0,727.7 L371.0,727.6 L373.0,727.5 L375.0,727.5 L377.0,727.4 L379.0,727.3 L381.0,727.3 L383.0,727.2 L385.0,727.1 L387.0,727.1 L389.0,727.0 L391.0,726.9 L393.0,726.9 L395.0,726.8 L397.0,726.7 L399.0,726.7 L401.0,726.6 L403.0,726.5 L405.0,726.5 L407.0,726.4 L409.0,726.4 L411.0,726.3 L413.0,726.3 L415.0,726.2 L417.0,726.2 L419.0,726.2 L421.0,726.1 L423.0,726.1 L425.0,726.1 L427.0,726.0 L429.0,726.0 L431.0,726.0 L433.0,726.0 L435.0,726.0 L437.0,726.0 L439.0,726.0 L441.0,726.0 L443.0,726.0 L445.0,726.0 L447.0,726.1 L449.0,726.1 L451.0,726.1 L453.0,726.2 L455.0,726.2 L457.0,726.3 L459.0,726.4 L461.0,726.4 L463.0,726.5 L465.0,726.6 L467.0,726.7 L469.0,726.8 L471.0,726.9 L473.0,727.0 L475.0,727.1 L477.0,727.3 L479.0,727.4 L481.0,727.6 L483.0,727.7 L485.0,727.9 L487.0,728.1 L489.0,728.3 L491.0,728.5 L493.0,728.7 L495.0,728.9 L497.0,729.1 L499.0,729.4 L501.0,729.6 L503.0,729.9 L505.0,730.2 L507.0,730.5 L509.0,730.8 L511.0,731.1 L513.0,731.5 L515.0,731.8 L517.0,732.2 L519.0,732.6 L521.0,733.0 L523.0,733.4 L525.0,733.9 L527.0,734.3 L529.0,734.8 L531.0,735.3 L533.0,735.9 L535.0,736.4 L537.0,737.0 L539.0,737.6 L541.0,738.2 L543.0,738.8 L545.0,739.4 L547.0,740.0 L549.0,740.6 L551.0,741.2 L553.0,741.7 L555.0,742.2 L557.0,742.7 L559.0,743.2 L561.0,743.7 L563.0,744.1 L565.0,744.6 L567.0,745.0 L569.0,745.4 L571.0,745.8 L573.0,746.1 L575.0,746.5 L577.0,746.9 L579.0,747.2 L581.0,747.6 L583.0,747.9 L585.0,748.2 L587.0,748.5 L589.0,748.8 L591.0,749.1 L593.0,749.4 L595.0,749.6 L597.0,749.9 L599.0,750.1 L601.0,750.4 L603.0,750.6 L605.0,750.8 L607.0,751.0 L609.0,751.3 L611.0,751.5 L613.0,751.7 L615.0,751.9 L617.0,752.0 L619.0,752.2 L621.0,752.4 L623.0,752.6 L625.0,752.7 L627.0,752.9 L629.0,753.1 L631.0,753.2 L633.0,753.4 L635.0,753.5 L637.0,753.6 L639.0,753.8 L641.0,753.9 L643.0,754.1 L645.0,754.2 L647.0,754.3 L649.0,754.5 L651.0,754.6 L653.0,754.7 L655.0,754.9 L657.0,755.0 L659.0,755.1 L661.0,755.2 L663.0,755.4 L665.0,755.5 L667.0,755.6 L669.0,755.8 L671.0,755.9 L673.0,756.0 L675.0,756.1 L677.0,756.3 L679.0,756.4 L681.0,756.5 L683.0,756.6 L685.0,756.8 L687.0,756.9 L689.0,757.0 L691.0,757.1 L693.0,757.3 L695.0,757.4 L697.0,757.5 L699.0,757.6 L701.0,757.8 L703.0,757.9 L705.0,758.0 L707.0,758.1 L709.0,758.2 L711.0,758.3 L713.0,758.5 L715.0,758.6 L717.0,758.7 L719.0,758.8 L721.0,758.9 L723.0,759.0 L725.0,759.1 L727.0,759.2 L729.0,759.3 L731.0,759.5 L733.0,759.6 L735.0,759.7 L737.0,759.8 L739.0,759.9 L741.0,760.0 L743.0,760.1 L745.0,760.2 L747.0,760.2 L749.0,760.3 L751.0,760.4 L753.0,760.5 L755.0,760.6 L757.0,760.7 L759.0,760.8 L761.0,760.9 L763.0,760.9 L765.0,761.0 L767.0,761.1 L769.0,761.2 L771.0,761.2 L773.0,761.3 L775.0,761.4 L777.0,761.5 L779.0,761.5 L781.0,761.6 L783.0,761.7 L785.0,761.7 L787.0,761.8 L789.0,761.8 L791.0,761.9 L793.0,761.9 L795.0,762.0 L797.0,762.0 L799.0,762.1 L801.0,762.1 L803.0,762.2 L805.0,762.2 L807.0,762.2 L809.0,762.3 L811.0,762.3 L813.0,762.3 L815.0,762.3 L817.0,762.4 L819.0,762.4 L821.0,762.4 L823.0,762.4 L825.0,762.4 L827.0,762.4 L829.0,762.4 L831.0,762.4 L833.0,762.4 L835.0,762.4 L837.0,762.4 L839.0,762.4 L841.0,762.4 L843.0,762.4 L845.0,762.4 L847.0,762.3 L849.0,762.3 L851.0,762.3 L853.0,762.3 L855.0,762.2 L857.0,762.2 L859.0,762.1 L861.0,762.1 L863.0,762.1 L865.0,762.0 L867.0,761.9 L869.0,761.9 L871.0,761.8 L872.0,761.8" fill="none" stroke="#000" stroke-width="4.6" stroke-linejoin="round" stroke-linecap="round"/>
<text x="127.4" y="691" font-size="43" fill="#000" stroke="#000" stroke-width="2.2">b</text>
<text x="154.2" y="691" font-size="43" fill="#000" stroke="#000" stroke-width="1.1">)</text>
<circle cx="121.3" cy="696.8" r="1.9" fill="#000"/>
<g transform="translate(355.2,691.5) scale(1.08,1)"><text x="0" y="0" font-size="30.5" font-weight="bold" fill="#000" stroke="#000" stroke-width="0.6">3.35 V vs. Li/Li<tspan font-size="26" dy="-11" stroke-width="1.6">+</tspan></text></g>
<g transform="translate(429.7,1217.3) scale(1.025,1)"><text x="0" y="0" font-size="33.8" font-weight="bold" fill="#000" stroke="#000" stroke-width="0.6">Time / h</text></g>
<g transform="translate(38.8,997.5) rotate(-90)" fill="#000" stroke="#000" stroke-width="0.6" font-weight="bold" font-size="35"><text transform="scale(1.17,1)" x="-1.5" y="0">Δ</text><text x="25.5" y="0">m / µg cm<tspan font-size="28" dy="-15.5" dx="1">-</tspan><tspan font-size="28" dx="1">2</tspan></text></g>
<line x1="348.3" y1="913.2" x2="414.7" y2="913.2" stroke="#d80000" stroke-width="5" stroke-linecap="round"/>
<g transform="translate(444.8,925.2) scale(1.14,1)"><text x="0" y="0" font-size="30.7" fill="#000" stroke="#000" stroke-width="0.3">Dry</text></g>
<line x1="348.3" y1="968.9" x2="414.7" y2="968.9" stroke="#0000d4" stroke-width="5" stroke-linecap="round"/>
<g transform="translate(444.8,977.0) scale(1.14,1)"><text x="0" y="0" font-size="30.7" fill="#000" stroke="#000" stroke-width="0.3">H<tspan font-size="24" dy="7.5">2</tspan><tspan dy="-7.5">O spiked</tspan></text></g>
<line x1="348.3" y1="1024.7" x2="414.7" y2="1024.7" stroke="#30bd30" stroke-width="5" stroke-linecap="round"/>
<g transform="translate(444.8,1036.4) scale(1.14,1)"><text x="0" y="0" font-size="30.7" fill="#000" stroke="#000" stroke-width="0.3">HF spiked</text></g>
<line x1="348.3" y1="1079.8" x2="414.7" y2="1079.8" stroke="#000" stroke-width="5" stroke-linecap="round"/>
<g transform="translate(444.8,1088.1) scale(1.14,1)"><text x="0" y="0" font-size="30.7" fill="#000" stroke="#000" stroke-width="0.3">HPO<tspan font-size="24" dy="7.5">2</tspan><tspan dy="-7.5">F</tspan><tspan font-size="24" dy="7.5">2</tspan><tspan dy="-7.5"> spiked</tspan></text></g>
</g>
</svg>
</body></html>
